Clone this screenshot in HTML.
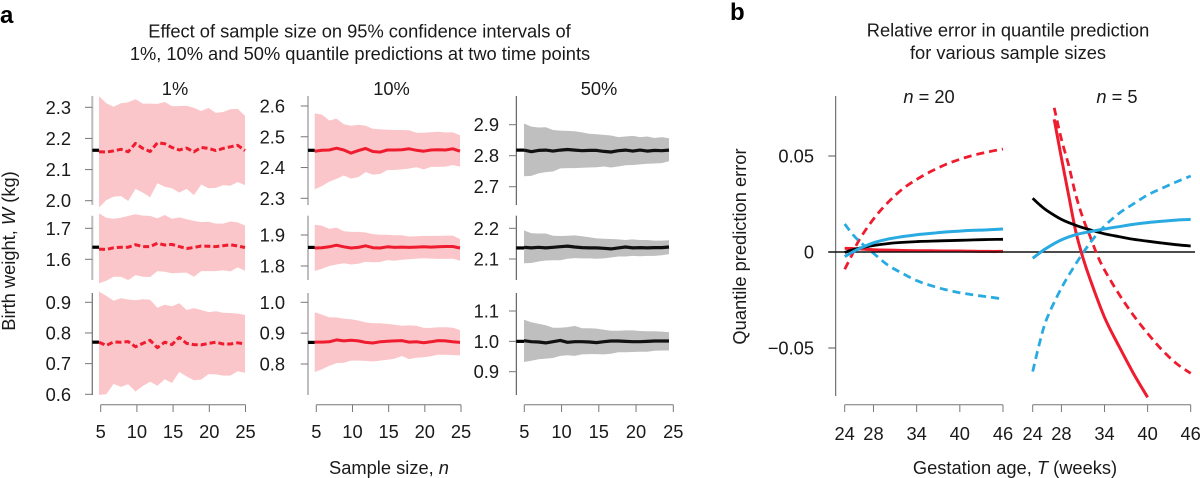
<!DOCTYPE html>
<html lang="en">
<head>
<meta charset="utf-8">
<title>Sample size effects on quantile predictions</title>
<style>
html,body{margin:0;padding:0;background:#fff;width:1200px;height:478px;overflow:hidden}
svg{display:block;font-family:"Liberation Sans",sans-serif;fill:#1a1a1a}
text{font-size:18.3px}
</style>
</head>
<body>
<svg id="chart" width="1200" height="478" viewBox="0 0 1200 478" xmlns="http://www.w3.org/2000/svg">
  <text x="0" y="23" style="font-size:24px;font-weight:bold;fill:#000">a</text>
  <text x="730" y="20" style="font-size:24px;font-weight:bold;fill:#000">b</text>
  <text x="359.5" y="37.5" text-anchor="middle">Effect of sample size on 95% confidence intervals of</text>
  <text x="360" y="60" text-anchor="middle">1%, 10% and 50% quantile predictions at two time points</text>
  <text x="1008" y="36.5" text-anchor="middle">Relative error in quantile prediction</text>
  <text x="1008" y="59" text-anchor="middle">for various sample sizes</text>
  <text x="175" y="95" text-anchor="middle">1%</text>
  <text x="391.5" y="95" text-anchor="middle">10%</text>
  <text x="599" y="95" text-anchor="middle">50%</text>
  <text transform="translate(15,251) rotate(-90)" text-anchor="middle">Birth weight, <tspan font-style="italic">W</tspan> (kg)</text>
  <text x="389" y="474" text-anchor="middle">Sample size, <tspan font-style="italic">n</tspan></text>
  <text transform="translate(746,246.5) rotate(-90)" text-anchor="middle">Quantile prediction error</text>
  <text x="1015" y="474" text-anchor="middle">Gestation age, <tspan font-style="italic">T</tspan> (weeks)</text>
  <text x="929" y="103" text-anchor="middle"><tspan font-style="italic">n</tspan> = 20</text>
  <text x="1117" y="103" text-anchor="middle"><tspan font-style="italic">n</tspan> = 5</text>
</svg>
<script>
// ---------- Panel a data ----------
const sampleSizes = [5,6,7,8,9,10,11,12,13,14,15,16,17,18,19,20,21,22,23,24,25];
const sampleTicks = [5,10,15,20,25];

const q1Top_upper = [2.336,2.313,2.302,2.313,2.316,2.326,2.312,2.312,2.311,2.317,2.304,2.304,2.305,2.298,2.288,2.298,2.282,2.285,2.294,2.295,2.273];
const q1Top_lower = [1.978,2.002,2.013,2.015,1.999,2.038,2.026,2.011,2.056,2.045,2.040,2.026,2.038,2.018,2.052,2.040,2.041,2.050,2.048,2.060,2.050];
const q1Top_mean = [2.157,2.156,2.160,2.165,2.157,2.184,2.168,2.158,2.186,2.183,2.171,2.163,2.169,2.157,2.171,2.168,2.161,2.168,2.173,2.178,2.161];
const q1Mid_upper = [1.748,1.734,1.731,1.734,1.740,1.745,1.741,1.740,1.732,1.743,1.731,1.735,1.729,1.724,1.720,1.721,1.715,1.715,1.722,1.719,1.709];
const q1Mid_lower = [1.523,1.531,1.544,1.544,1.533,1.549,1.544,1.543,1.562,1.560,1.555,1.556,1.557,1.544,1.562,1.562,1.562,1.565,1.561,1.574,1.563];
const q1Mid_mean = [1.633,1.632,1.637,1.639,1.639,1.647,1.641,1.641,1.652,1.646,1.648,1.641,1.635,1.638,1.643,1.642,1.641,1.644,1.647,1.643,1.638];
const q1Low_upper = [.935,.921,.905,.913,.909,.907,.910,.908,.882,.892,.887,.897,.875,.881,.875,.868,.871,.866,.865,.863,.859];
const q1Low_lower = [.598,.600,.634,.624,.633,.609,.627,.641,.628,.649,.637,.673,.658,.646,.648,.666,.665,.661,.661,.675,.670];
const q1Low_mean = [.770,.759,.771,.770,.772,.755,.766,.776,.752,.770,.762,.786,.766,.762,.761,.766,.770,.764,.764,.768,.764];

const q10Top_upper = [2.576,2.572,2.553,2.559,2.541,2.536,2.539,2.536,2.526,2.524,2.523,2.522,2.522,2.521,2.513,2.513,2.515,2.516,2.514,2.515,2.505];
const q10Top_lower = [2.329,2.340,2.354,2.363,2.374,2.364,2.369,2.385,2.377,2.379,2.392,2.392,2.394,2.397,2.401,2.394,2.402,2.402,2.403,2.408,2.403];
const q10Top_mean = [2.453,2.456,2.457,2.463,2.457,2.447,2.455,2.462,2.452,2.450,2.457,2.457,2.458,2.461,2.456,2.453,2.457,2.458,2.457,2.461,2.453];
const q10Mid_upper = [1.933,1.930,1.920,1.924,1.912,1.910,1.910,1.908,1.903,1.901,1.901,1.899,1.899,1.895,1.896,1.897,1.897,1.897,1.898,1.898,1.887];
const q10Mid_lower = [1.784,1.791,1.800,1.805,1.809,1.805,1.807,1.814,1.812,1.813,1.819,1.817,1.820,1.822,1.824,1.825,1.824,1.823,1.823,1.824,1.817];
const q10Mid_mean = [1.858,1.859,1.862,1.867,1.862,1.858,1.860,1.865,1.859,1.858,1.862,1.860,1.861,1.860,1.861,1.862,1.861,1.862,1.863,1.863,1.858];
const q10Low_upper = [.968,.960,.951,.951,.947,.945,.941,.935,.932,.932,.930,.927,.924,.925,.924,.917,.917,.919,.919,.918,.910];
const q10Low_lower = [.774,.783,.794,.803,.804,.811,.811,.810,.808,.811,.814,.817,.826,.816,.820,.822,.825,.830,.830,.829,.828];
const q10Low_mean = [.871,.871,.872,.878,.875,.877,.875,.870,.868,.872,.874,.875,.876,.871,.872,.869,.872,.876,.875,.872,.870];

const q50Top_upper = [2.904,2.894,2.891,2.892,2.883,2.881,2.880,2.879,2.875,2.871,2.869,2.867,2.865,2.860,2.862,2.864,2.860,2.862,2.857,2.860,2.856];
const q50Top_lower = [2.734,2.735,2.743,2.747,2.749,2.759,2.760,2.760,2.761,2.762,2.763,2.765,2.762,2.765,2.769,2.770,2.772,2.774,2.775,2.776,2.782];
const q50Top_mean = [2.818,2.813,2.817,2.818,2.815,2.818,2.820,2.818,2.816,2.817,2.817,2.814,2.812,2.816,2.818,2.815,2.818,2.815,2.817,2.816,2.818];
const q50Mid_upper = [2.193,2.184,2.183,2.183,2.176,2.175,2.176,2.177,2.174,2.171,2.167,2.166,2.165,2.164,2.162,2.164,2.162,2.162,2.160,2.160,2.161];
const q50Mid_lower = [2.086,2.087,2.092,2.095,2.096,2.096,2.101,2.103,2.102,2.102,2.101,2.102,2.105,2.108,2.108,2.110,2.109,2.110,2.110,2.112,2.116];
const q50Mid_mean = [2.138,2.136,2.138,2.136,2.138,2.140,2.142,2.139,2.137,2.136,2.136,2.135,2.133,2.136,2.139,2.136,2.137,2.136,2.137,2.137,2.139];
const q50Low_upper = [1.071,1.063,1.058,1.053,1.045,1.045,1.047,1.051,1.043,1.043,1.042,1.038,1.035,1.035,1.036,1.036,1.034,1.033,1.033,1.032,1.030];
const q50Low_lower = [.932,.936,.941,.943,.945,.952,.954,.952,.957,.958,.958,.957,.959,.964,.964,.965,.966,.966,.969,.970,.970];
const q50Low_mean = [1.002,.999,.998,.995,.999,1.003,.997,.999,.999,.998,.996,.999,1.001,1.001,1.000,.999,.999,1.000,1.001,1.001,1.001];

const q1Top_ticks = ["2.3","2.2","2.1","2.0"];
const q1Mid_ticks = ["1.7","1.6"];
const q1Low_ticks = ["0.9","0.8","0.7","0.6"];
const q10Top_ticks = ["2.6","2.5","2.4","2.3"];
const q10Mid_ticks = ["1.9","1.8"];
const q10Low_ticks = ["1.0","0.9","0.8"];
const q50Top_ticks = ["2.9","2.8","2.7"];
const q50Mid_ticks = ["2.2","2.1"];
const q50Low_ticks = ["1.1","1.0","0.9"];

const trueValues = [2.162,1.639,.770,2.456,1.860,.870,2.818,2.136,1.000];

// ---------- Panel b data ----------
const gestationWeeks = [24,25,26,28,30,32,34,36,38,40,42,44,46];
const gestationTicks = [24,28,34,40,46];
const errorTicks = ["0.05","0","\u22120.05"];
const errorTickValues = [0.05,0,-0.05];

const n20RedDashed = [-.0090,-.0016,.0062,.0172,.0258,.0327,.0378,.0420,.0455,.0483,.0505,.0522,.0536];
const n20BlueDashed = [.0146,.0097,.0057,-.0007,-.0068,-.0111,-.0149,-.0175,-.0196,-.0212,-.0224,-.0234,-.0245];
const n20RedSolid = [.0019,.0018,.0016,.0012,.001,.0008,.0007,.0006,.0005,.0005,.0004,.0003,.0003];
const n20Black = [-.0002,.001,.0020,.0034,.0044,.005,.0054,.0057,.0059,.0061,.0063,.0065,.0066];
const n20BlueSolid = [-.0024,-.0002,.0017,.0048,.0067,.008,.009,.0097,.0104,.0109,.0113,.0116,.012];

const n5Black = [.028,.0245,.0215,.017,.0139,.0115,.0095,.008,.0066,.0056,.0047,.0038,.0031];
const n5BlueSolid = [-.0033,-.0004,.0022,.0063,.009,.0106,.0120,.0132,.0144,.0153,.016,.0166,.017];
const n5BlueDashed = [-.0623,-.0467,-.0344,-.0188,-.0062,.0048,.0135,.0201,.025,.0297,.0332,.0365,.0396];
const n5RedDashedWeeks = [27,28,29,30,31,32,33,34,36,38,40,42,44,46];
const n5RedDashed = [.0751,.0587,.0453,.0297,.0176,.008,-.0016,-.0093,-.0219,-.0328,-.0424,-.051,-.058,-.0632];
const n5RedSolidWeeks = [27,28,29,30,31,32,34,36,38,40];
const n5RedSolid = [.0691,.049,.0297,.0106,-.0031,-.0143,-.0340,-.0490,-.0630,-.0757];

// ---------- Drawing ----------
const svg = document.getElementById('chart');
const NS = 'http://www.w3.org/2000/svg';
const RED = '#ee1c2e', BLUE = '#29aae1', PINK = '#fbc6c9', GREY = '#bfbfbf', INK = '#111';

function mk(tag, attrs, parent) {
  const el = document.createElementNS(NS, tag);
  for (const k in attrs) el.setAttribute(k, attrs[k]);
  (parent || svg).appendChild(el);
  return el;
}
function line(x1, y1, x2, y2, stroke, w, g) {
  return mk('line', {x1, y1, x2, y2, stroke, 'stroke-width': w}, g);
}
function label(x, y, s, anchor, g) {
  const t = mk('text', {x, y, 'text-anchor': anchor}, g);
  t.textContent = s;
  return t;
}
function linear(d0, d1, r0, r1) {
  return v => r0 + (v - d0) * (r1 - r0) / (d1 - d0);
}

const columns = [
  {key:'1-percent', axisX:92.3, bandL:99, bandR:245, tick5:100.7, tick25:245.5, labelR:71, labelColor:'#bcbcbc', labelW:2, lowColor:'#777', lowW:1.3, fill:PINK, color:RED, dashed:true, lw:3},
  {key:'10-percent', axisX:308, bandL:314.7, bandR:460, tick5:316.3, tick25:461, labelR:285, labelColor:'#adadad', labelW:1.6, lowColor:'#adadad', lowW:1.6, fill:PINK, color:RED, dashed:false, lw:3},
  {key:'50-percent', axisX:516.3, bandL:524, bandR:669, tick5:524.3, tick25:673.3, labelR:499, labelColor:'#444', labelW:1, lowColor:'#444', lowW:1, fill:GREY, color:INK, dashed:false, lw:3.2}
];
const rows = [{key:'top', y0:96, y1:205},{key:'middle', y0:215.7, y1:280},{key:'bottom', y0:293, y1:395}];
const cells = [
  {c:0,r:0,upper:q1Top_upper,lower:q1Top_lower,mean:q1Top_mean,ticks:q1Top_ticks,py0:107.3,py1:200.7},
  {c:0,r:1,upper:q1Mid_upper,lower:q1Mid_lower,mean:q1Mid_mean,ticks:q1Mid_ticks,py0:228.3,py1:259.3},
  {c:0,r:2,upper:q1Low_upper,lower:q1Low_lower,mean:q1Low_mean,ticks:q1Low_ticks,py0:302.3,py1:394.3},
  {c:1,r:0,upper:q10Top_upper,lower:q10Top_lower,mean:q10Top_mean,ticks:q10Top_ticks,py0:106,py1:198.3},
  {c:1,r:1,upper:q10Mid_upper,lower:q10Mid_lower,mean:q10Mid_mean,ticks:q10Mid_ticks,py0:235,py1:266},
  {c:1,r:2,upper:q10Low_upper,lower:q10Low_lower,mean:q10Low_mean,ticks:q10Low_ticks,py0:302.3,py1:364},
  {c:2,r:0,upper:q50Top_upper,lower:q50Top_lower,mean:q50Top_mean,ticks:q50Top_ticks,py0:124.7,py1:186.7},
  {c:2,r:1,upper:q50Mid_upper,lower:q50Mid_lower,mean:q50Mid_mean,ticks:q50Mid_ticks,py0:228.3,py1:259},
  {c:2,r:2,upper:q50Low_upper,lower:q50Low_lower,mean:q50Low_mean,ticks:q50Low_ticks,py0:311,py1:371.7}
];

cells.forEach((cell, idx) => {
  const col = columns[cell.c], row = rows[cell.r];
  const name = col.key + '-' + row.key;
  const g = mk('g', {});
  
  

  const xs = linear(sampleSizes[0], sampleSizes[sampleSizes.length - 1], col.bandL, col.bandR);
  const ys = linear(+cell.ticks[0], +cell.ticks[cell.ticks.length - 1], cell.py0, cell.py1);

  const up = sampleSizes.map((n, i) => xs(n).toFixed(1) + ',' + ys(cell.upper[i]).toFixed(1));
  const lo = sampleSizes.map((n, i) => xs(n).toFixed(1) + ',' + ys(cell.lower[i]).toFixed(1)).reverse();
  const band = mk('polygon', {points: up.concat(lo).join(' '), fill: col.fill}, g);
  
  

  const isLow = cell.r === 2;
  const axisColor = isLow ? col.lowColor : col.labelColor;
  const axisW = isLow ? col.lowW : col.labelW;
  const axis = line(col.axisX, row.y0, col.axisX, row.y1, axisColor, axisW, g);
  
  

  cell.ticks.forEach(tv => {
    const y = ys(+tv);
    const tk = line(col.axisX - 7.3, y, col.axisX, y, '#777', 1, g);
    
    
    const tl = label(col.labelR, y + 6.5, tv, 'end', g);
    
    
  });

  const tv = line(col.axisX, ys(trueValues[idx]), col.bandL, ys(trueValues[idx]), '#000', 3.2, g);
  
  

  const mean = mk('polyline', {
    points: sampleSizes.map((n, i) => xs(n).toFixed(1) + ',' + ys(cell.mean[i]).toFixed(1)).join(' '),
    fill: 'none', stroke: col.color, 'stroke-width': col.lw, 'stroke-linejoin': 'round'
  }, g);
  if (col.dashed) mean.setAttribute('stroke-dasharray', '6 3');
  
  
});

columns.forEach(col => {
  const g = mk('g', {});
  
  
  const xt = linear(sampleTicks[0], sampleTicks[sampleTicks.length - 1], col.tick5, col.tick25);
  line(col.tick5, 404.7, col.tick25, 404.7, '#777', 1, g);
  sampleTicks.forEach(t => {
    line(xt(t), 404.7, xt(t), 412, '#777', 1, g);
    const tl = label(xt(t), 438, String(t), 'middle', g);
    
    
  });
});

// Panel b
const errY = linear(0, 0.05, 252, 156);
const facets = [
  {key:'n-20', x0:844.7, x1:1003},
  {key:'n-5', x0:1032.7, x1:1190.7}
];
const weekX = facets.map(f => linear(gestationTicks[0], gestationTicks[gestationTicks.length - 1], f.x0, f.x1));

function smoothPath(px) {
  let d = 'M' + px[0][0].toFixed(1) + ' ' + px[0][1].toFixed(1);
  for (let i = 0; i < px.length - 1; i++) {
    const p0 = px[Math.max(i - 1, 0)], p1 = px[i], p2 = px[i + 1], p3 = px[Math.min(i + 2, px.length - 1)];
    const c1x = p1[0] + (p2[0] - p0[0]) / 6, c1y = p1[1] + (p2[1] - p0[1]) / 6;
    const c2x = p2[0] - (p3[0] - p1[0]) / 6, c2y = p2[1] - (p3[1] - p1[1]) / 6;
    d += 'C' + c1x.toFixed(1) + ' ' + c1y.toFixed(1) + ' ' + c2x.toFixed(1) + ' ' + c2y.toFixed(1) + ' ' + p2[0].toFixed(1) + ' ' + p2[1].toFixed(1);
  }
  return d;
}
function curve(facet, weeks, vals, color, w, dash, name) {
  const px = weeks.map((t, i) => [weekX[facet](t), errY(vals[i])]);
  const p = mk('path', {d: smoothPath(px), fill: 'none', stroke: color, 'stroke-width': w});
  if (dash) p.setAttribute('stroke-dasharray', dash);
  
  
}

const errAxis = line(835.7, 96, 835.7, 396, '#555', 1);


errorTicks.forEach((s, i) => {
  const y = errY(errorTickValues[i]);
  const tk = line(828.3, y, 835.7, y, '#555', 1);
  
  
  const tl = label(814, y + 6.5, s, 'end');
  
  
});

const DASH = '8 5';
curve(0, gestationWeeks, n20RedDashed, RED, 2.8, DASH, 'curve-n20-red-dashed');
curve(0, gestationWeeks, n20BlueDashed, BLUE, 2.8, DASH, 'curve-n20-blue-dashed');
curve(0, gestationWeeks, n20RedSolid, RED, 3, null, 'curve-n20-red-solid');

const zero = line(828.3, errY(0), 1195, errY(0), '#111', 1.5);



curve(0, gestationWeeks, n20Black, '#000', 2.8, null, 'curve-n20-black');
curve(0, gestationWeeks, n20BlueSolid, BLUE, 3, null, 'curve-n20-blue-solid');

curve(1, n5RedDashedWeeks, n5RedDashed, RED, 2.8, DASH, 'curve-n5-red-dashed');
curve(1, gestationWeeks, n5BlueDashed, BLUE, 2.8, DASH, 'curve-n5-blue-dashed');
curve(1, n5RedSolidWeeks, n5RedSolid, RED, 3, null, 'curve-n5-red-solid');
curve(1, gestationWeeks, n5Black, '#000', 2.8, null, 'curve-n5-black');
curve(1, gestationWeeks, n5BlueSolid, BLUE, 3, null, 'curve-n5-blue-solid');

facets.forEach((f, fi) => {
  const g = mk('g', {});
  
  
  line(f.x0, 404.7, f.x1, 404.7, '#777', 1, g);
  gestationTicks.forEach(t => {
    const x = weekX[fi](t);
    line(x, 404.7, x, 412, '#777', 1, g);
    const tl = label(x, 440, String(t), 'middle', g);
    
    
  });
});
</script>
</body>
</html>
